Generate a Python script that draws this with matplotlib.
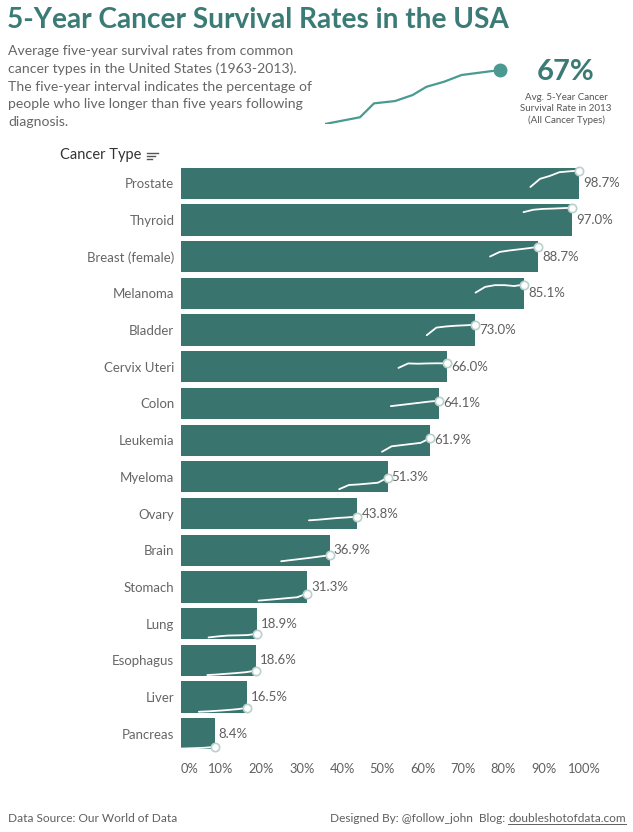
import numpy as np
import matplotlib
matplotlib.use("Agg")
import matplotlib.pyplot as plt
from matplotlib.lines import Line2D

plt.rcParams['font.family'] = ['Lato', 'DejaVu Sans']

# ---- data ----
cancers = ['Prostate', 'Thyroid', 'Breast (female)', 'Melanoma', 'Bladder',
           'Cervix Uteri', 'Colon', 'Leukemia', 'Myeloma', 'Ovary', 'Brain',
           'Stomach', 'Lung', 'Esophagus', 'Liver', 'Pancreas']
rate_2013 = [98.7, 97.0, 88.7, 85.1, 73.0, 66.0, 64.1, 61.9, 51.3, 43.8,
             36.9, 31.3, 18.9, 18.6, 16.5, 8.4]

# survival trend per cancer type (earliest period -> 2013)
trend = {
    'Prostate':        [41.7, 70.0, 80.0, 93.0, 96.0, 98.7],
    'Thyroid':         [81.7, 90.0, 93.0, 94.0, 95.5, 97.0],
    'Breast (female)': [55.0, 71.0, 76.0, 80.0, 84.0, 88.7],
    'Melanoma':        [57.0, 77.0, 83.0, 83.0, 80.0, 85.1],
    'Bladder':         [36.5, 63.0, 67.0, 69.5, 71.0, 73.0],
    'Cervix Uteri':    [50.5, 66.0, 65.0, 66.0, 66.5, 66.0],
    'Colon':           [45.0, 49.0, 53.0, 57.0, 61.0, 64.1],
    'Leukemia':        [14.0, 33.0, 37.0, 41.0, 45.0, 61.9],
    'Myeloma':         [11.5, 26.0, 28.0, 31.0, 34.0, 51.3],
    'Ovary':           [30.7, 33.0, 36.0, 39.0, 41.0, 43.8],
    'Brain':           [16.0, 20.0, 24.0, 28.0, 32.5, 36.9],
    'Stomach':         [6.7, 9.5, 12.4, 15.5, 18.5, 31.3],
    'Lung':            [6.3, 10.0, 12.8, 13.5, 14.5, 18.9],
    'Esophagus':       [3.0, 5.0, 7.5, 10.0, 13.0, 18.6],
    'Liver':           [3.0, 4.5, 6.5, 9.0, 12.0, 16.5],
    'Pancreas':        [1.0, 2.0, 3.0, 4.0, 5.5, 8.4],
}

avg_years = [1963, 1973, 1977, 1983, 1988, 1992, 1997, 2002, 2013]
avg_rate = [39.0, 42.5, 49.7, 50.9, 54.0, 58.3, 60.9, 64.4, 67.0]

xticks = [0, 10, 20, 30, 40, 50, 60, 70, 80, 90, 100]

BAR = '#3a746f'
TEAL = '#3b7b76'
SPARK = '#4a9a92'
GREY = '#5f5f5f'

W, H = 633, 832
fig = plt.figure(figsize=(W / 100, H / 100), dpi=100)


def fx(x):
    return x / W


def fy(y):
    return 1 - y / H


# ---- header ----
fig.text(fx(7), fy(20), '5-Year Cancer Survival Rates in the USA', fontsize=20.2,
         fontweight='bold', color=TEAL, va='center', ha='left')

subtitle = ('Average five-year survival rates from common\n'
            'cancer types in the United States (1963-2013).\n'
            'The five-year interval indicates the percentage of\n'
            'people who live longer than five years following\n'
            'diagnosis.')
fig.text(fx(8), fy(45), subtitle, fontsize=10.1, color='#666666', va='top',
         ha='left', linespacing=1.55)

# overall trend sparkline
ax2 = fig.add_axes([fx(325), fy(124), fx(500) - fx(325), fy(70) - fy(124)])
ax2.plot(avg_years, avg_rate, color=SPARK, lw=1.6, solid_capstyle='round')
ax2.plot(avg_years[-1], avg_rate[-1], 'o', color=SPARK, ms=9, clip_on=False)
ax2.set_xlim(avg_years[0], avg_years[-1])
ax2.set_ylim(avg_rate[0], avg_rate[-1])
ax2.axis('off')

fig.text(fx(566), fy(72), f'{avg_rate[-1]:.0f}%', fontsize=21,
         fontweight='bold', color=TEAL, ha='center', va='center')
fig.text(fx(566), fy(109), 'Avg. 5-Year Cancer\nSurvival Rate in 2013\n(All Cancer Types)',
         fontsize=7, color='#555555', ha='center', va='center', linespacing=1.3)

# column header + sort icon
fig.text(fx(60), fy(155), 'Cancer Type', fontsize=10.5, color='#333333',
         ha='left', va='center')
for yy, x1 in [(152.7, 158), (155.7, 155), (158.7, 152)]:
    fig.add_artist(Line2D([fx(147), fx(x1)], [fy(yy), fy(yy)], color='#555555',
                          lw=1.0, transform=fig.transFigure))

# ---- main bar chart ----
ax = fig.add_axes([fx(180.7), fy(752), fx(584) - fx(180.7), fy(165) - fy(752)])
ypos = np.arange(len(cancers))
bh = 0.853
bars = ax.barh(ypos, rate_2013, height=bh, color=BAR)

for i, (name, val) in enumerate(zip(cancers, rate_2013)):
    tr = np.array(trend[name])
    t = np.linspace(0, 1, len(tr))
    xs = val - 12 + 12 * t
    ys = i + bh / 2 - bh * 0.92 * tr / 100
    ln, = ax.plot(xs, ys, color='white', lw=1.3, solid_capstyle='round')
    ln.set_clip_path(bars[i])
    ax.plot(val, ys[-1], 'o', ms=6, mfc='white', mec='#b9d0cd', mew=1.2,
            clip_on=False, zorder=4)
    ax.text(val + 1.0, i, f'{val:.1f}%', fontsize=9.5, color=GREY,
            ha='left', va='center')

ax.set_xlim(0, 100)
ax.set_ylim(len(cancers) - 0.5, -0.5)
ax.set_yticks(ypos)
ax.set_yticklabels(cancers, fontsize=9.5, color='#666666')
ax.set_xticks(xticks)
ax.set_xticklabels([f'{v}%' for v in xticks], fontsize=9.3, color=GREY)
ax.get_xticklabels()[0].set_ha('left')
ax.tick_params(axis='both', length=0)
ax.tick_params(axis='y', pad=4.6)
ax.tick_params(axis='x', pad=8)
for s in ax.spines.values():
    s.set_visible(False)

# ---- footer ----
fig.text(fx(8), fy(819), 'Data Source: Our World of Data', fontsize=8.6,
         color=GREY, ha='left', va='center')
link = fig.text(fx(626), fy(819), 'doubleshotofdata.com', fontsize=8.6,
                color=GREY, ha='right', va='center')
fig.canvas.draw()
bb = link.get_window_extent()
fig.text(bb.x0 / W, fy(819), 'Designed By: @follow_john  Blog: ', fontsize=8.6,
         color=GREY, ha='right', va='center')
fig.add_artist(Line2D([bb.x0 / W, bb.x1 / W], [(bb.y0 + 1) / H] * 2,
                      color=GREY, lw=0.7, transform=fig.transFigure))

fig.savefig('out.png', dpi=100)
